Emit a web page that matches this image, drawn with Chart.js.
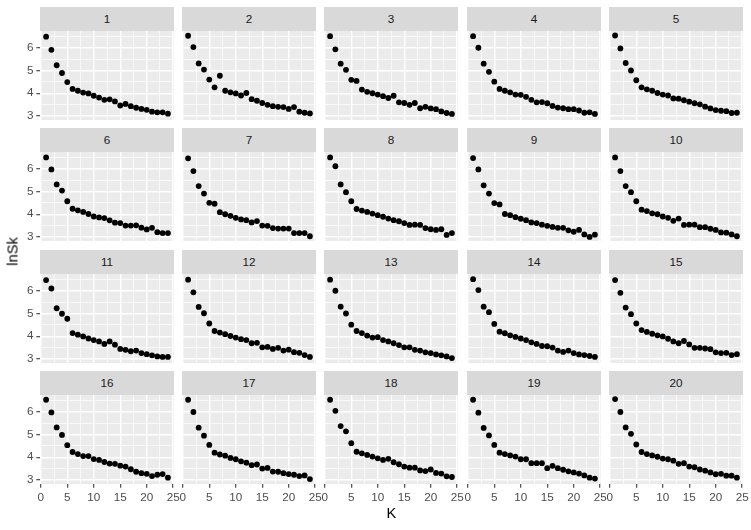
<!DOCTYPE html>
<html><head><meta charset="utf-8">
<script src="https://cdn.jsdelivr.net/npm/chart.js@4/dist/chart.umd.min.js"></script>
<style>
html,body{margin:0;padding:0;background:#fff;}
#root{position:relative;width:751px;height:530px;overflow:hidden;font-family:'Liberation Sans',Arial,sans-serif;}
.strip{position:absolute;background:#D9D9D9;color:#1A1A1A;font-size:11.7px;text-align:center;}
.panel{position:absolute;}
.title{position:absolute;color:#000;font-size:14.7px;line-height:17px;text-align:center;white-space:nowrap;}
</style></head><body><div id="root"></div>
<script>
// ---- data ----
const K = [1,2,3,4,5,6,7,8,9,10,11,12,13,14,15,16,17,18,19,20,21,22,23,24];
const s1  = [6.49,5.91,5.23,4.89,4.49,4.19,4.11,4.03,3.99,3.89,3.81,3.71,3.73,3.64,3.46,3.53,3.43,3.36,3.31,3.27,3.19,3.16,3.16,3.10];
const s2  = [6.53,6.03,5.31,5.04,4.60,4.26,4.77,4.11,4.04,3.99,3.90,4.01,3.74,3.67,3.57,3.49,3.43,3.40,3.39,3.31,3.39,3.19,3.14,3.11];
const s3  = [6.51,5.93,5.30,5.03,4.59,4.54,4.16,4.06,4.00,3.94,3.87,3.79,3.89,3.60,3.57,3.49,3.57,3.34,3.40,3.33,3.30,3.20,3.13,3.09];
const s4  = [6.51,6.00,5.30,4.94,4.51,4.19,4.11,4.04,3.94,3.93,3.84,3.71,3.60,3.61,3.56,3.44,3.37,3.34,3.30,3.30,3.24,3.14,3.16,3.09];
const s5  = [6.54,5.97,5.33,5.00,4.57,4.26,4.17,4.11,4.01,3.94,3.90,3.77,3.76,3.69,3.63,3.56,3.51,3.41,3.33,3.26,3.23,3.21,3.13,3.14];
const s6  = [6.50,5.97,5.31,5.04,4.57,4.24,4.17,4.10,4.01,3.90,3.86,3.83,3.73,3.63,3.61,3.50,3.50,3.51,3.41,3.33,3.40,3.21,3.17,3.17];
const s7  = [6.46,5.90,5.24,4.91,4.50,4.46,4.09,4.00,3.93,3.84,3.77,3.74,3.64,3.70,3.50,3.49,3.39,3.37,3.37,3.37,3.17,3.17,3.17,3.03];
const s8  = [6.50,6.11,5.31,4.97,4.57,4.23,4.16,4.10,4.03,3.96,3.89,3.81,3.74,3.69,3.61,3.53,3.54,3.53,3.39,3.34,3.31,3.34,3.09,3.17];
const s9  = [6.47,5.97,5.27,4.91,4.49,4.43,4.01,3.96,3.87,3.80,3.74,3.64,3.61,3.54,3.49,3.44,3.40,3.40,3.29,3.23,3.31,3.11,3.00,3.10];
const s10 = [6.50,5.90,5.24,4.97,4.57,4.20,4.14,4.04,4.00,3.90,3.84,3.71,3.81,3.53,3.54,3.54,3.43,3.43,3.36,3.31,3.20,3.19,3.11,3.03];
const s11 = [6.47,6.10,5.23,4.99,4.77,4.14,4.07,3.99,3.90,3.83,3.77,3.66,3.77,3.63,3.44,3.40,3.34,3.37,3.26,3.21,3.16,3.11,3.09,3.09];
const s12 = [6.49,5.93,5.29,5.01,4.56,4.23,4.16,4.09,4.01,3.94,3.87,3.83,3.69,3.71,3.51,3.53,3.44,3.49,3.37,3.41,3.30,3.27,3.17,3.09];
const s13 = [6.49,6.00,5.30,5.00,4.51,4.23,4.14,4.03,3.94,3.96,3.83,3.77,3.69,3.61,3.51,3.51,3.40,3.37,3.29,3.26,3.20,3.16,3.11,3.04];
const s14 = [6.51,6.03,5.30,5.06,4.54,4.20,4.13,4.04,3.97,3.90,3.83,3.73,3.66,3.57,3.56,3.50,3.37,3.31,3.37,3.26,3.20,3.17,3.13,3.09];
const s15 = [6.47,5.91,5.26,4.97,4.56,4.27,4.19,4.11,4.04,3.99,3.89,3.77,3.69,3.79,3.64,3.49,3.49,3.46,3.43,3.29,3.26,3.27,3.17,3.21];
const s16 = [6.53,5.97,5.31,4.98,4.53,4.23,4.14,4.05,4.05,3.92,3.88,3.79,3.72,3.71,3.63,3.59,3.47,3.36,3.30,3.27,3.17,3.23,3.26,3.10];
const s17 = [6.53,5.99,5.30,4.95,4.54,4.20,4.12,4.07,3.97,3.91,3.82,3.76,3.65,3.68,3.50,3.53,3.37,3.36,3.30,3.26,3.23,3.17,3.20,3.04];
const s18 = [6.53,6.04,5.37,5.14,4.62,4.24,4.17,4.10,4.03,3.95,3.88,3.93,3.78,3.69,3.59,3.54,3.54,3.42,3.39,3.46,3.31,3.28,3.16,3.13];
const s19 = [6.53,5.96,5.29,4.96,4.54,4.20,4.14,4.08,4.03,3.91,3.91,3.74,3.74,3.74,3.52,3.62,3.52,3.45,3.38,3.33,3.28,3.20,3.10,3.06];
const s20 = [6.56,5.99,5.31,5.03,4.56,4.23,4.14,4.08,4.02,3.94,3.91,3.85,3.71,3.74,3.59,3.56,3.46,3.41,3.33,3.25,3.27,3.19,3.19,3.10];
const series = [s1,s2,s3,s4,s5,s6,s7,s8,s9,s10,s11,s12,s13,s14,s15,s16,s17,s18,s19,s20];
const panelLabels = ['1','2','3','4','5','6','7','8','9','10','11','12','13','14','15','16','17','18','19','20'];
const xMajor = [0,5,10,15,20,25];
const xMinor = [2.5,7.5,12.5,17.5,22.5];
const xTickLabels = ['0','5','10','15','20','25'];
const yMajor = [3,4,5,6];
const yMinor = [3.5,4.5,5.5,6.5];
const yTickLabels = ['3','4','5','6'];
const xTitle = 'K';
const yTitle = 'lnSk';

// ---- layout ----
const colLeft = [40,182,324,467,609];
const plotW = 134;
const stripTop = [7,128,250,371];
const stripH = 24;
const plotH = 89;

Chart.defaults.font.family = "'Liberation Sans', Arial, sans-serif";
Chart.defaults.animation = false;

const allVals = series.flat();
const dMin = Math.min(...allVals), dMax = Math.max(...allVals);
const yMin = dMin - 0.05*(dMax-dMin), yMax = dMax + 0.05*(dMax-dMin);
const kMin = Math.min(...K), kMax = Math.max(...K);
const xMin = kMin - 0.05*(kMax-kMin), xMax = kMax + 0.05*(kMax-kMin);

const xBreaks = xMajor.concat(xMinor).sort((a,b)=>a-b);
const yBreaks = yMajor.concat(yMinor).sort((a,b)=>a-b);

const panelBg = {id:'panelBg', beforeDraw(chart){
  const a = chart.chartArea, ctx = chart.ctx;
  ctx.save(); ctx.fillStyle = '#EBEBEB';
  ctx.fillRect(a.left, a.top, a.right-a.left, a.bottom-a.top); ctx.restore();
}};

const root = document.getElementById('root');

for (let idx=0; idx<20; idx++){
  const r = Math.floor(idx/5), c = idx%5;
  const plotTop = stripTop[r] + stripH;
  const strip = document.createElement('div');
  strip.className = 'strip';
  Object.assign(strip.style,{left:colLeft[c]+'px',top:stripTop[r]+'px',width:plotW+'px',height:stripH+'px',lineHeight:stripH+'px'});
  strip.textContent = panelLabels[idx];
  root.appendChild(strip);

  const padL = c===0 ? 40 : (r===3 ? 8 : 0);
  const padR = r===3 ? 8 : 0;
  const padB = r===3 ? 24 : 0;
  const yAxisW = c===0 ? 40 : 0;
  const div = document.createElement('div');
  div.className = 'panel';
  Object.assign(div.style,{left:(colLeft[c]-padL)+'px',top:plotTop+'px',width:(plotW+padL+padR)+'px',height:(plotH+padB)+'px'});
  const cv = document.createElement('canvas');
  div.appendChild(cv);
  root.appendChild(div);

  const showX = r===3, showY = c===0;
  new Chart(cv, {
    type:'scatter',
    data:{datasets:[{
      data: K.map((k,i)=>({x:k, y:series[idx][i]})),
      backgroundColor:'#000000', borderWidth:0, pointRadius:2.9, pointHoverRadius:2.9
    }]},
    options:{
      responsive:true, maintainAspectRatio:false, events:[],
      layout:{autoPadding:false, padding:{left: padL - yAxisW, right:padR, top:0, bottom:0}},
      plugins:{legend:{display:false}, tooltip:{enabled:false}},
      scales:{
        x:{type:'linear', min:xMin, max:xMax,
          border:{display:false},
          afterBuildTicks:s=>{s.ticks = xBreaks.map(v=>({value:v}));},
          afterFit:s=>{s.height = padB; s.paddingLeft = 0; s.paddingRight = 0; s.paddingTop = 0; s.paddingBottom = 0;},
          grid:{color:'#FFFFFF', lineWidth:ctx=> xMajor.includes(ctx.tick.value)?1.42:0.71,
            drawTicks:showX, tickLength:3.67, tickWidth:1.07,
            tickColor:ctx=> xMajor.includes(ctx.tick.value)?'#333333':'rgba(0,0,0,0)'},
          ticks:{display:showX, padding:2.9, color:'#4D4D4D', font:{size:11.7}, maxRotation:0, autoSkip:false,
            callback:v=>{const i=xMajor.indexOf(v); return i>=0?xTickLabels[i]:'';}}
        },
        y:{type:'linear', min:yMin, max:yMax,
          border:{display:false},
          afterBuildTicks:s=>{s.ticks = yBreaks.map(v=>({value:v}));},
          afterFit:s=>{s.width = yAxisW; s.paddingLeft = 0; s.paddingRight = 0; s.paddingTop = 0; s.paddingBottom = 0;},
          grid:{color:'#FFFFFF', lineWidth:ctx=> yMajor.includes(ctx.tick.value)?1.42:0.71,
            drawTicks:showY, tickLength:3.67, tickWidth:1.07,
            tickColor:ctx=> yMajor.includes(ctx.tick.value)?'#333333':'rgba(0,0,0,0)'},
          ticks:{display:showY, padding:2.9, color:'#4D4D4D', font:{size:11.7}, autoSkip:false,
            callback:v=>{const i=yMajor.indexOf(v); return i>=0?yTickLabels[i]:'';}}
        }
      }
    },
    plugins:[panelBg]
  });
}

const xt = document.createElement('div');
xt.className='title'; xt.textContent = xTitle;
Object.assign(xt.style,{left:'40px',width:'703px',top:'505px'});
root.appendChild(xt);
const yt = document.createElement('div');
yt.className='title'; yt.textContent = yTitle;
Object.assign(yt.style,{left:(12.7-50)+'px',width:'100px',top:(251.7-8.5)+'px',transform:'rotate(-90deg)'});
root.appendChild(yt);
</script>
</body></html>
